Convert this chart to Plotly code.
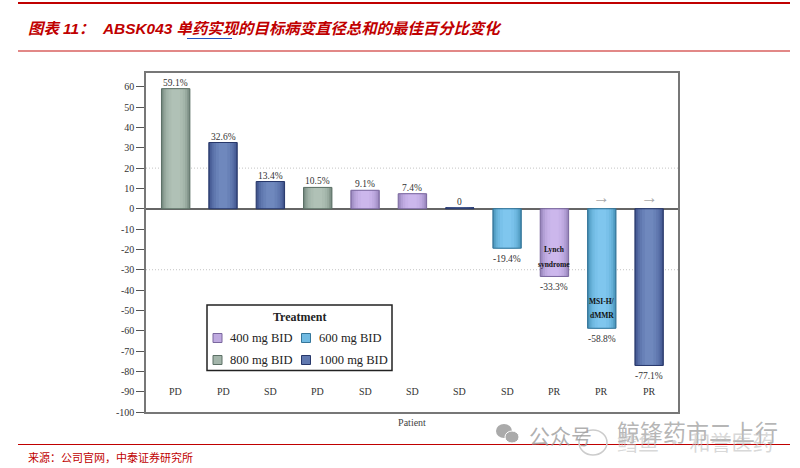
import plotly.graph_objects as go

# 数据
patients = [1, 2, 3, 4, 5, 6, 7, 8, 9, 10, 11]
values = [59.1, 32.6, 13.4, 10.5, 9.1, 7.4, 0.4, -19.4, -33.3, -58.8, -77.1]
value_labels = ["59.1%", "32.6%", "13.4%", "10.5%", "9.1%", "7.4%", "0",
                "-19.4%", "-33.3%", "-58.8%", "-77.1%"]
doses = ["800 mg BID", "1000 mg BID", "1000 mg BID", "800 mg BID", "400 mg BID", "400 mg BID",
         "1000 mg BID", "600 mg BID", "400 mg BID", "600 mg BID", "1000 mg BID"]
responses = ["PD", "PD", "SD", "PD", "SD", "SD", "SD", "SD", "PR", "PR", "PR"]
ongoing = [10, 11]
y_ticks = list(range(-100, 61, 10))
ref_lines = [20, -30]

dose_order = ["400 mg BID", "600 mg BID", "800 mg BID", "1000 mg BID"]
# 바깥쪽 -> 안쪽 색
dose_shades = {
    "400 mg BID": ["#9481b8", "#a592c8", "#b3a0d6", "#bfaae0", "#c7b2e8", "#ccb7ec"],
    "600 mg BID": ["#4289ae", "#55a0c6", "#65afd6", "#70bae2", "#79c1ea", "#7fc6ee"],
    "800 mg BID": ["#70857b", "#87998f", "#97a99e", "#a3b5aa", "#abbcb1", "#b0c1b6"],
    "1000 mg BID": ["#3a4d84", "#4a5f98", "#566da5", "#6078af", "#6881b7", "#6f88bd"],
}
dose_edges = {"400 mg BID": "#7a679e", "600 mg BID": "#35769a",
              "800 mg BID": "#5c7066", "1000 mg BID": "#27376a"}
widths = [0.6, 0.55, 0.48, 0.4, 0.3, 0.18]

SERIF = "Liberation Serif, serif"
SANS_CJK = "Liberation Sans, Noto Sans CJK SC, sans-serif"
CJK = "Noto Sans CJK SC, sans-serif"
RED = "#c00000"

L, R, T, B = 146, 122, 73, 56
PW, PH = 800 - L - R, 468 - T - B


def px(x):
    return (x - L) / PW


def py(y):
    return 1 - (y - T) / PH


def page_text(x, y, text, family, size, color, anchor="left"):
    return dict(xref="paper", yref="paper", x=px(x), y=py(y), xanchor=anchor, yanchor="middle",
                showarrow=False, text=text, font=dict(family=family, size=size, color=color))


def page_rect(x0, y0, x1, y1, fill, line, width=1, kind="rect"):
    return dict(type=kind, xref="paper", yref="paper", x0=px(x0), x1=px(x1), y0=py(y0), y1=py(y1),
                fillcolor=fill, line=dict(color=line, width=width))


fig = go.Figure()

# 막대: 그라데이션 느낌을 위해 폭을 줄여가며 겹침
for dose in dose_order:
    xs = [p for p, d in zip(patients, doses) if d == dose]
    ys = [v for v, d in zip(values, doses) if d == dose]
    for w, c in zip(widths, dose_shades[dose]):
        fig.add_trace(go.Bar(x=xs, y=ys, width=w, name=dose, showlegend=False, hoverinfo="skip",
                             marker=dict(color=c, line=dict(width=0))))
    fig.add_trace(go.Bar(x=xs, y=ys, width=widths[0], name=dose, showlegend=False, hoverinfo="skip",
                         marker=dict(color="rgba(0,0,0,0)", line=dict(width=1, color=dose_edges[dose]))))

ann = []
for p, v, t in zip(patients, values, value_labels):
    ann.append(dict(x=p, y=v, text=t, showarrow=False, yanchor="bottom" if v >= 0 else "top",
                    yshift=-1 if v >= 0 else -4, font=dict(family=SERIF, size=9.5, color="#333")))
for p, r in zip(patients, responses):
    ann.append(dict(x=p, y=-90, text=r, showarrow=False, font=dict(family=SERIF, size=10, color="#333")))
for p in ongoing:
    ann.append(dict(x=p, y=5.5, text="→", showarrow=False,
                    font=dict(family="Liberation Sans, sans-serif", size=17, color="#aaa")))
for p, y, t in [(9, -20, "Lynch"), (9, -27.2, "syndrome"), (10, -45.5, "MSI-H/"), (10, -52.5, "dMMR")]:
    ann.append(dict(x=p, y=y, text="<b>%s</b>" % t, showarrow=False,
                    font=dict(family=SERIF, size=7.5, color="#111")))

# 제목, 출처, 워터마크
ann.append(page_text(26, 29, "<b><i>图表 11：  ABSK043 单药实现的目标病变直径总和的最佳百分比变化</i></b>",
                     SANS_CJK, 15.4, RED))
ann.append(page_text(26, 456.5, "来源：公司官网，中泰证券研究所", CJK, 11, RED))
ann.append(page_text(527, 435, "公众号", CJK, 21, "rgba(150,150,150,0.75)"))
ann.append(page_text(615, 431, "鲸锋药市二上行", CJK, 23, "rgba(150,150,150,0.7)"))
ann.append(page_text(615, 441, "鳕鱼 · 和誉医药", CJK, 21, "rgba(190,190,190,0.6)"))

shapes = []
for y in ref_lines:
    shapes.append(dict(type="line", xref="paper", x0=0, x1=1, y0=y, y1=y, layer="below",
                       line=dict(color="#c4c4c4", width=1, dash="1px,2px")))
for y, c, w in [(3, RED, 2), (51, "#d9605f", 1.5), (444.5, RED, 1)]:
    shapes.append(dict(type="line", xref="paper", yref="paper", x0=px(18), x1=px(790),
                       y0=py(y), y1=py(y), line=dict(color=c, width=w)))
shapes.append(dict(type="line", xref="paper", yref="paper", x0=px(187), x1=px(232),
                   y0=py(38.5), y1=py(38.5), line=dict(color="#1f4fc0", width=1.2)))

# 범례 상자
shapes.append(page_rect(207, 305, 392, 370.5, "white", "#222", 1.5))
ann.append(page_text(299.5, 317, "<b>Treatment</b>", SERIF, 12, "#222", anchor="center"))
legend_pos = [(217.5, 338), (306, 338), (217.5, 360), (306, 360)]
for dose_name, (lx, ly) in zip(dose_order, legend_pos):
    shapes.append(page_rect(lx - 4.5, ly - 4.5, lx + 4.5, ly + 4.5, dose_shades[dose_name][3],
                            dose_edges[dose_name], 1))
    ann.append(page_text(lx + 10.5, ly, dose_name, SERIF, 12.5, "#222"))

# 워터마크 아이콘
shapes.append(page_rect(496, 424, 512, 438, "#aaa", "#aaa", 0, "circle"))
shapes.append(page_rect(505, 431, 519, 443, "#aaa", "#fff", 1, "circle"))
shapes.append(page_rect(579, 430, 607, 455, "rgba(0,0,0,0)", "#ccc", 1.5, "circle"))

fig.update_layout(
    width=800, height=468, autosize=False,
    margin=dict(l=L, r=R, t=T, b=B),
    paper_bgcolor="white", plot_bgcolor="white",
    barmode="overlay", annotations=ann, shapes=shapes, showlegend=False,
    font=dict(family=SERIF, color="#333"),
)
fig.update_xaxes(range=[0.373, 11.61], showticklabels=False, ticks="", showgrid=False, zeroline=False,
                 showline=True, mirror=True, linecolor="#777", linewidth=1.5,
                 title=dict(text="Patient", standoff=6, font=dict(family=SERIF, size=10, color="#444")))
fig.update_yaxes(range=[-100, 66.8], tickvals=y_ticks, ticktext=[str(t) for t in y_ticks],
                 ticks="outside", ticklen=8, tickcolor="#555",
                 tickfont=dict(family=SERIF, size=10, color="#333"), showgrid=False,
                 zeroline=True, zerolinecolor="#666", zerolinewidth=1.5,
                 showline=True, mirror=True, linecolor="#777", linewidth=1.5)

fig.write_html("out.html", config={"displayModeBar": False},
               post_script="document.body.style.margin='0';")
